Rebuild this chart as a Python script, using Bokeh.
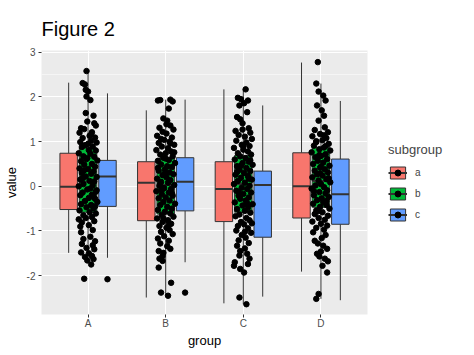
from bokeh.plotting import figure
from bokeh.models import Range1d, FixedTicker, ColumnDataSource, Legend, LegendItem
from bokeh.embed import file_html
from bokeh.resources import INLINE

groups = ["A", "B", "C", "D"]
subgroups = ["a", "b", "c"]
colors = ["#F8766D", "#00BA38", "#619CFF"]
y_ticks = [-2, -1, 0, 1, 2, 3]
y_tick_labels = ["-2", "-1", "0", "1", "2", "3"]

# box statistics per subgroup, one value per group (A, B, C, D)
box_lo = {"a": [-1.49, -2.49, -2.62, -1.91], "b": [-1.72, -2.45, -2.64, -2.52], "c": [-1.60, -1.70, -2.47, -2.55]}
box_q1 = {"a": [-0.52, -0.77, -0.79, -0.71], "b": [-0.58, -0.62, -0.58, -0.47], "c": [-0.45, -0.55, -1.14, -0.85]}
box_med = {"a": [-0.01, 0.08, -0.06, 0.00], "b": [0.10, 0.03, 0.05, 0.12], "c": [0.22, 0.10, 0.03, -0.18]}
box_q3 = {"a": [0.74, 0.55, 0.55, 0.75], "b": [0.86, 0.62, 0.69, 0.87], "c": [0.58, 0.64, 0.34, 0.61]}
box_hi = {"a": [2.32, 1.70, 2.17, 2.77], "b": [2.58, 1.94, 2.17, 2.30], "c": [2.08, 1.94, 1.81, 1.91]}
outlier_group = ["A", "B"]
outlier_sub = ["c", "c"]
outlier_val = [-2.08, -2.38]

# jittered observations: (horizontal jitter, value)
pts_A = [(-0.02, 2.58), (-0.07, 2.31), (-0.04, 2.28), (-0.03, 2.16), (0.00, 2.12), (-0.02, 2.01), (0.03, 1.93),
         (-0.03, 1.64), (0.07, 1.58), (-0.01, 1.45), (0.08, 1.41), (0.10, 1.36), (-0.09, 1.30), (-0.05, 1.28),
         (0.05, 1.21), (-0.11, 1.20), (0.02, 1.13), (0.09, 1.09), (-0.07, 1.08), (0.04, 1.02), (-0.10, 0.99),
         (0.11, 0.98), (-0.04, 0.92), (0.06, 0.89), (-0.08, 0.88), (0.01, 0.81), (0.10, 0.80), (-0.12, 0.74),
         (0.03, 0.73), (-0.06, 0.67), (0.08, 0.66), (-0.02, 0.61), (0.12, 0.58), (-0.09, 0.56), (0.05, 0.50),
         (-0.05, 0.49), (0.09, 0.44), (-0.11, 0.40), (0.00, 0.39), (0.07, 0.33), (-0.08, 0.30), (0.04, 0.28),
         (-0.03, 0.22), (0.11, 0.21), (-0.10, 0.15), (0.02, 0.12), (0.08, 0.11), (-0.06, 0.05), (0.06, 0.02),
         (-0.12, 0.00), (0.03, -0.05), (-0.01, -0.07), (0.10, -0.12), (-0.07, -0.14), (0.05, -0.19), (-0.10, -0.20),
         (0.01, -0.26), (0.09, -0.28), (-0.04, -0.33), (0.12, -0.35), (-0.09, -0.40), (0.04, -0.42), (-0.02, -0.47),
         (0.07, -0.49), (-0.11, -0.54), (0.02, -0.58), (0.10, -0.61), (-0.06, -0.65), (0.05, -0.69), (-0.03, -0.71),
         (0.08, -0.78), (-0.08, -0.81), (0.01, -0.87), (-0.10, -0.90), (0.06, -0.98), (-0.09, -1.03), (0.03, -1.13),
         (-0.06, -1.18), (0.09, -1.23), (-0.08, -1.29), (0.06, -1.32), (-0.02, -1.38), (0.08, -1.41), (-0.09, -1.48),
         (0.01, -1.50), (0.05, -1.56), (-0.04, -1.58), (0.07, -1.63), (-0.01, -1.66), (0.04, -1.75), (-0.05, -2.07),
         (0.00, 0.95), (-0.05, 0.36), (0.07, -0.23), (-0.01, 0.63), (0.11, -0.09), (0.04, 1.16), (-0.12, -0.74),
         (-0.07, 0.18), (0.09, -0.45)]
pts_B = [(-0.10, 1.92), (-0.07, 1.93), (0.06, 1.94), (0.09, 1.90), (0.04, 1.74), (-0.03, 1.52), (0.02, 1.47),
         (0.06, 1.36), (-0.08, 1.31), (0.10, 1.27), (-0.04, 1.22), (0.01, 1.18), (-0.11, 1.13), (0.08, 1.09),
         (-0.02, 1.04), (0.05, 1.00), (-0.09, 0.97), (0.11, 0.93), (-0.05, 0.89), (0.03, 0.85), (-0.12, 0.81),
         (0.07, 0.78), (0.00, 0.74), (-0.07, 0.71), (0.09, 0.67), (-0.03, 0.64), (0.04, 0.59), (-0.10, 0.57),
         (0.12, 0.52), (-0.06, 0.49), (0.02, 0.45), (0.08, 0.43), (-0.01, 0.38), (-0.09, 0.35), (0.05, 0.31),
         (0.10, 0.27), (-0.04, 0.25), (0.01, 0.20), (-0.11, 0.17), (0.06, 0.14), (-0.06, 0.10), (0.03, 0.08),
         (0.11, 0.03), (-0.08, 0.01), (-0.02, -0.04), (0.07, -0.06), (-0.12, -0.11), (0.04, -0.14), (-0.05, -0.18),
         (0.09, -0.21), (0.00, -0.25), (-0.09, -0.27), (0.05, -0.32), (-0.03, -0.35), (0.12, -0.39), (-0.07, -0.42),
         (0.02, -0.46), (0.08, -0.50), (-0.10, -0.53), (-0.01, -0.57), (0.06, -0.61), (-0.05, -0.64), (0.10, -0.68),
         (-0.11, -0.72), (0.03, -0.76), (-0.04, -0.80), (0.07, -0.84), (-0.08, -0.89), (0.01, -0.93), (0.05, -0.98),
         (-0.06, -1.02), (0.09, -1.07), (-0.02, -1.12), (-0.10, -1.17), (0.04, -1.22), (-0.07, -1.28), (0.02, -1.34),
         (0.06, -1.40), (-0.09, -1.45), (-0.03, -1.49), (-0.04, -1.56), (-0.08, -1.62), (-0.04, -1.67), (-0.09, -1.82),
         (0.07, -2.16), (-0.06, -2.38), (0.03, -2.45), (0.00, 0.62), (-0.06, 1.06), (0.08, -0.16), (-0.01, 0.29),
         (0.04, -0.87), (-0.10, 0.41), (0.11, 0.76), (-0.05, -0.09), (0.06, 0.96), (-0.03, -0.72), (0.01, 1.39),
         (-0.07, 0.06)]
pts_C = [(0.03, 2.17), (-0.07, 1.98), (-0.03, 1.95), (0.01, 1.86), (0.06, 1.92), (-0.05, 1.81), (0.05, 1.66),
         (-0.08, 1.55), (-0.04, 1.50), (0.07, 1.30), (-0.01, 1.41), (-0.10, 1.24), (0.09, 1.20), (-0.06, 1.15),
         (0.02, 1.11), (0.11, 1.06), (-0.09, 1.02), (0.04, 0.98), (-0.02, 0.93), (0.08, 0.90), (-0.12, 0.86),
         (0.00, 0.82), (0.06, 0.78), (-0.07, 0.74), (0.10, 0.71), (-0.04, 0.67), (0.03, 0.63), (-0.11, 0.60),
         (0.07, 0.55), (-0.01, 0.52), (0.12, 0.48), (-0.08, 0.45), (0.04, 0.41), (-0.05, 0.37), (0.09, 0.34),
         (0.01, 0.30), (-0.10, 0.26), (0.06, 0.23), (-0.03, 0.19), (0.11, 0.15), (-0.07, 0.12), (0.02, 0.08),
         (-0.12, 0.05), (0.08, 0.01), (-0.02, -0.03), (0.05, -0.06), (-0.09, -0.10), (0.10, -0.14), (0.00, -0.17),
         (-0.06, -0.21), (0.07, -0.25), (-0.04, -0.28), (0.03, -0.32), (-0.11, -0.36), (0.12, -0.40), (-0.01, -0.43),
         (0.06, -0.47), (-0.08, -0.51), (0.02, -0.55), (0.09, -0.59), (-0.05, -0.63), (-0.10, -0.67), (0.04, -0.71),
         (0.08, -0.76), (-0.03, -0.80), (0.01, -0.85), (-0.07, -0.89), (0.06, -0.94), (-0.09, -0.99), (0.10, -1.04),
         (-0.02, -1.09), (0.03, -1.15), (-0.06, -1.21), (0.07, -1.27), (-0.08, -1.33), (0.02, -1.39), (-0.04, -1.45),
         (0.05, -1.51), (-0.05, -1.55), (0.08, -1.62), (-0.11, -1.70), (-0.12, -1.78), (-0.04, -1.85), (0.01, -1.93),
         (0.06, -1.74), (-0.05, -2.49), (0.04, -2.64), (0.00, 0.89), (-0.08, 0.32), (0.05, -0.38), (-0.01, 1.27),
         (0.09, 0.58), (-0.06, -0.12), (0.11, -0.83), (-0.03, 0.46), (0.02, -1.02), (0.07, 0.17)]
pts_D = [(-0.04, 2.78), (-0.06, 2.30), (-0.03, 2.12), (0.03, 2.03), (0.06, 1.92), (-0.05, 1.81), (0.01, 1.70),
         (0.04, 1.58), (-0.03, 1.47), (0.05, 1.32), (-0.08, 1.26), (0.09, 1.21), (-0.01, 1.17), (-0.11, 1.12),
         (0.07, 1.08), (0.02, 1.03), (-0.06, 0.99), (0.10, 0.95), (-0.09, 0.91), (0.04, 0.87), (-0.02, 0.83),
         (0.12, 0.80), (-0.12, 0.76), (0.06, 0.72), (0.00, 0.68), (-0.07, 0.65), (0.08, 0.61), (-0.04, 0.57),
         (0.03, 0.53), (-0.10, 0.50), (0.11, 0.46), (-0.01, 0.42), (0.05, 0.38), (-0.08, 0.35), (0.09, 0.31),
         (-0.05, 0.27), (0.02, 0.24), (-0.11, 0.20), (0.07, 0.16), (-0.03, 0.13), (0.12, 0.09), (0.00, 0.05),
         (-0.07, 0.02), (0.04, -0.02), (-0.12, -0.05), (0.08, -0.09), (-0.02, -0.13), (0.06, -0.16), (-0.09, -0.20),
         (0.10, -0.24), (0.01, -0.27), (-0.05, -0.31), (0.03, -0.35), (-0.10, -0.39), (0.07, -0.42), (-0.01, -0.46),
         (0.11, -0.50), (-0.06, -0.54), (0.02, -0.58), (-0.08, -0.62), (0.09, -0.66), (-0.03, -0.71), (0.05, -0.75),
         (-0.11, -0.79), (0.00, -0.84), (0.08, -0.88), (-0.06, -0.93), (0.04, -0.97), (-0.10, -1.03), (0.06, -1.09),
         (-0.08, -1.22), (0.01, -1.16), (0.03, -1.33), (-0.04, -1.28), (0.08, -1.40), (-0.05, -1.51), (0.00, -1.46),
         (0.05, -1.62), (0.09, -1.68), (-0.02, -1.57), (0.02, -1.78), (0.08, -1.93), (-0.03, -2.41), (-0.06, -2.52),
         (0.00, 0.44), (-0.06, 1.01), (0.07, -0.33), (-0.02, 0.70), (0.10, 0.18), (-0.09, -0.11), (0.04, 1.14),
         (-0.04, -0.56), (0.06, 0.90), (-0.01, 0.29)]
points = {"A": pts_A, "B": pts_B, "C": pts_C, "D": pts_D}

FONT = "Liberation Sans"
DODGE = 0.25
BOX_W = 0.225

p = figure(frame_width=326, frame_height=264, output_backend="svg", toolbar_location=None,
           x_range=Range1d(0.4, 4.6), y_range=Range1d(-2.87, 3.04),
           min_border_left=32, min_border_top=50, min_border_right=100, min_border_bottom=28,
           title="Figure 2")
p.background_fill_color = "#EBEBEB"
p.border_fill_color = "white"
p.outline_line_color = None
p.title.text_font = FONT
p.title.text_font_size = "20px"
p.title.text_font_style = "normal"
p.title.text_color = "black"
p.title.align = "left"
p.title.standoff = 21

xpos = {g: i + 1 for i, g in enumerate(groups)}

p.xaxis.ticker = FixedTicker(ticks=[xpos[g] for g in groups])
p.xaxis.major_label_overrides = {xpos[g]: g for g in groups}
p.yaxis.ticker = FixedTicker(ticks=y_ticks, minor_ticks=[t + 0.5 for t in y_ticks[:-1]])
p.yaxis.major_label_overrides = {t: l for t, l in zip(y_ticks, y_tick_labels)}
p.xgrid.ticker = FixedTicker(ticks=[xpos[g] for g in groups])
p.ygrid.ticker = FixedTicker(ticks=y_ticks, minor_ticks=[t + 0.5 for t in y_ticks[:-1]])
for g in (p.xgrid, p.ygrid):
    g.grid_line_color = "white"
    g.grid_line_width = 1.1
p.ygrid.minor_grid_line_color = "white"
p.ygrid.minor_grid_line_width = 0.5

p.xaxis.axis_label = "group"
p.yaxis.axis_label = "value"
for ax in (p.xaxis[0], p.yaxis[0]):
    ax.axis_line_color = None
    ax.major_tick_line_color = "#333333"
    ax.major_tick_out = 3
    ax.major_tick_in = 0
    ax.minor_tick_line_color = None
    ax.major_label_text_font = FONT
    ax.major_label_text_font_size = "10px"
    ax.major_label_text_color = "#4D4D4D"
    ax.axis_label_text_font = FONT
    ax.axis_label_text_font_size = "13px"
    ax.axis_label_text_font_style = "normal"
    ax.axis_label_text_color = "black"
p.xaxis.major_label_standoff = 0
p.xaxis.axis_label_standoff = 1
p.yaxis.major_label_standoff = 2
p.yaxis.axis_label_standoff = 5

box_renderers = {}
med_renderers = {}
for i, s in enumerate(subgroups):
    off = (i - 1) * DODGE
    xs = [xpos[g] + off for g in groups]
    src = ColumnDataSource(dict(
        x=xs, x0=[x - BOX_W / 2 for x in xs], x1=[x + BOX_W / 2 for x in xs],
        lo=box_lo[s], q1=box_q1[s], med=box_med[s], q3=box_q3[s], hi=box_hi[s]))
    p.segment(x0="x", y0="q3", x1="x", y1="hi", source=src, line_color="#333333", line_width=1)
    p.segment(x0="x", y0="q1", x1="x", y1="lo", source=src, line_color="#333333", line_width=1)
    box_renderers[s] = p.vbar(x="x", width=BOX_W, bottom="q1", top="q3", source=src,
                              fill_color=colors[i], line_color="#333333", line_width=1)
    med_renderers[s] = p.segment(x0="x0", y0="med", x1="x1", y1="med", source=src,
                                 line_color="#333333", line_width=2)

out_x = [xpos[g] + (subgroups.index(s) - 1) * DODGE for g, s in zip(outlier_group, outlier_sub)]
p.scatter(x=out_x, y=outlier_val, size=5.5, fill_color="black", line_color="black")

px, py = [], []
for g in groups:
    for dx, v in points[g]:
        px.append(xpos[g] + dx)
        py.append(v)
pts_r = p.scatter(x=px, y=py, size=5.5, fill_color="black", line_color="black")

items = [LegendItem(label=s, renderers=[box_renderers[s], med_renderers[s], pts_r]) for s in subgroups]
legend = Legend(items=items, title="subgroup", location="left")
legend.margin = 21
legend.padding = 0
legend.border_line_color = None
legend.background_fill_alpha = 0
legend.title_text_font = FONT
legend.title_text_font_size = "13px"
legend.title_text_font_style = "normal"
legend.title_standoff = 8
legend.label_text_font = FONT
legend.label_text_font_size = "10px"
legend.label_standoff = 8
legend.glyph_width = 19
legend.glyph_height = 15
legend.spacing = 6
p.add_layout(legend, "right")

open("out.html", "w").write(file_html(p, INLINE))
